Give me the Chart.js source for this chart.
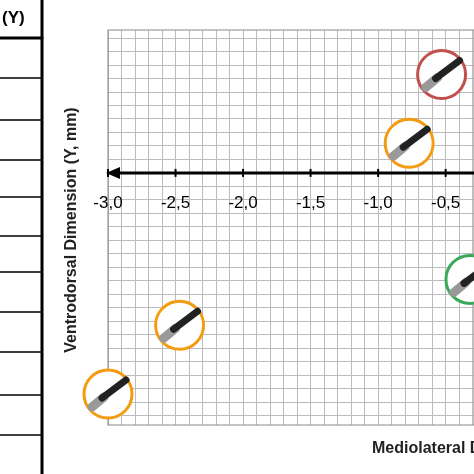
<!DOCTYPE html><html><head><script src="https://cdn.jsdelivr.net/npm/chart.js@4"></script>
<style>body{margin:0;background:#fff}#w{width:474px;height:474px;position:relative}</style></head><body><div id="w"><canvas id="c"></canvas></div>
<script>
const xTickLabels=["-3,0","-2,5","-2,0","-1,5","-1,0","-0,5"];
const xTickValues=[-3.0,-2.5,-2.0,-1.5,-1.0,-0.5];
const pointsX=[-0.53,-0.77,-0.32,-2.47,-3.0];
const pointsY=[0.73,0.22,-0.79,-1.13,-1.64];
const pointColors=["#c0504d","#f39c12","#3aaa5a","#f39c12","#f39c12"];
const tableLines=[38,78,120,160,197,236,272,312,352,395,435];

const overlay={id:'ov',afterDraw(ch){
 const c=ch.ctx,xs=ch.scales.x,ys=ch.scales.y,a=ch.chartArea;
 c.save();
 // border
 c.strokeStyle='#888';c.lineWidth=1;c.strokeRect(a.left,a.top,a.right-a.left,a.bottom-a.top);
 // x axis with arrow
 const y0=ys.getPixelForValue(0);
 c.strokeStyle='#000';c.lineWidth=3;c.beginPath();c.moveTo(a.left+4,y0);c.lineTo(a.right,y0);c.stroke();
 c.fillStyle='#000';c.beginPath();c.moveTo(a.left-2,y0);c.lineTo(a.left+12,y0-6);c.lineTo(a.left+12,y0+6);c.closePath();c.fill();
 c.font='17px "Liberation Sans",Arial';c.textAlign='center';c.textBaseline='top';
 xTickValues.forEach((v,i)=>{const px=xs.getPixelForValue(v);c.lineWidth=2;c.beginPath();c.moveTo(px,y0-4);c.lineTo(px,y0+4);c.stroke();c.fillText(xTickLabels[i],px,y0+22);});
 // points
 pointsX.forEach((v,i)=>{const px=xs.getPixelForValue(v),py=ys.getPixelForValue(pointsY[i]);
  c.fillStyle='#fff';c.strokeStyle=pointColors[i];c.lineWidth=3;c.beginPath();c.arc(px,py,24,0,Math.PI*2);c.fill();c.stroke();
  c.lineCap='round';c.strokeStyle='#999';c.lineWidth=9;c.beginPath();c.moveTo(px-16,py+13);c.lineTo(px-4,py+3);c.stroke();
  c.strokeStyle='#222';c.lineWidth=7;c.beginPath();c.moveTo(px-6,py+4);c.lineTo(px+18,py-14);c.stroke();
 });
 // titles
 c.fillStyle='#222';c.font='bold 16px "Liberation Sans",Arial';c.textAlign='left';c.textBaseline='middle';
 c.fillText('Mediolateral Dimension (X, mm)',372,449);
 c.save();c.translate(72,230);c.rotate(-Math.PI/2);c.textAlign='center';c.fillText('Ventrodorsal Dimension (Y, mm)',0,0);c.restore();
 // left table
 c.strokeStyle='#000';c.lineWidth=3;c.beginPath();c.moveTo(42,0);c.lineTo(42,474);c.stroke();
 c.lineWidth=1.5;tableLines.forEach(t=>{c.beginPath();c.moveTo(0,t);c.lineTo(42,t);c.stroke();});
 c.lineWidth=3;c.beginPath();c.moveTo(0,38);c.lineTo(42,38);c.stroke();
 c.fillStyle='#000';c.font='bold 17px "Liberation Sans",Arial';c.fillText('(Y)',2,18);
 c.restore();
}};
function tenths(min,max){const t=[];for(let k=Math.ceil(min*10);k<=Math.floor(max*10);k++)t.push({value:k/10});return t;}
new Chart(document.getElementById('c'),{type:'scatter',
 data:{datasets:[{data:pointsX.map((x,i)=>({x,y:pointsY[i]})),pointRadius:0}]},
 options:{responsive:true,maintainAspectRatio:false,animation:false,
  layout:{padding:{left:108,top:30,right:0,bottom:49}},
  plugins:{legend:{display:false},tooltip:{enabled:false}},
  scales:{
   x:{min:-3.0,max:-0.29,ticks:{display:false},border:{display:false},grid:{color:'#bbb',drawTicks:false},afterBuildTicks:s=>{s.ticks=tenths(-3.0,-0.29);}},
   y:{min:-1.87,max:1.06,ticks:{display:false},border:{display:false},grid:{color:'#bbb',drawTicks:false},afterBuildTicks:s=>{s.ticks=tenths(-1.87,1.06);}}
  }},plugins:[overlay]});
</script></body></html>
